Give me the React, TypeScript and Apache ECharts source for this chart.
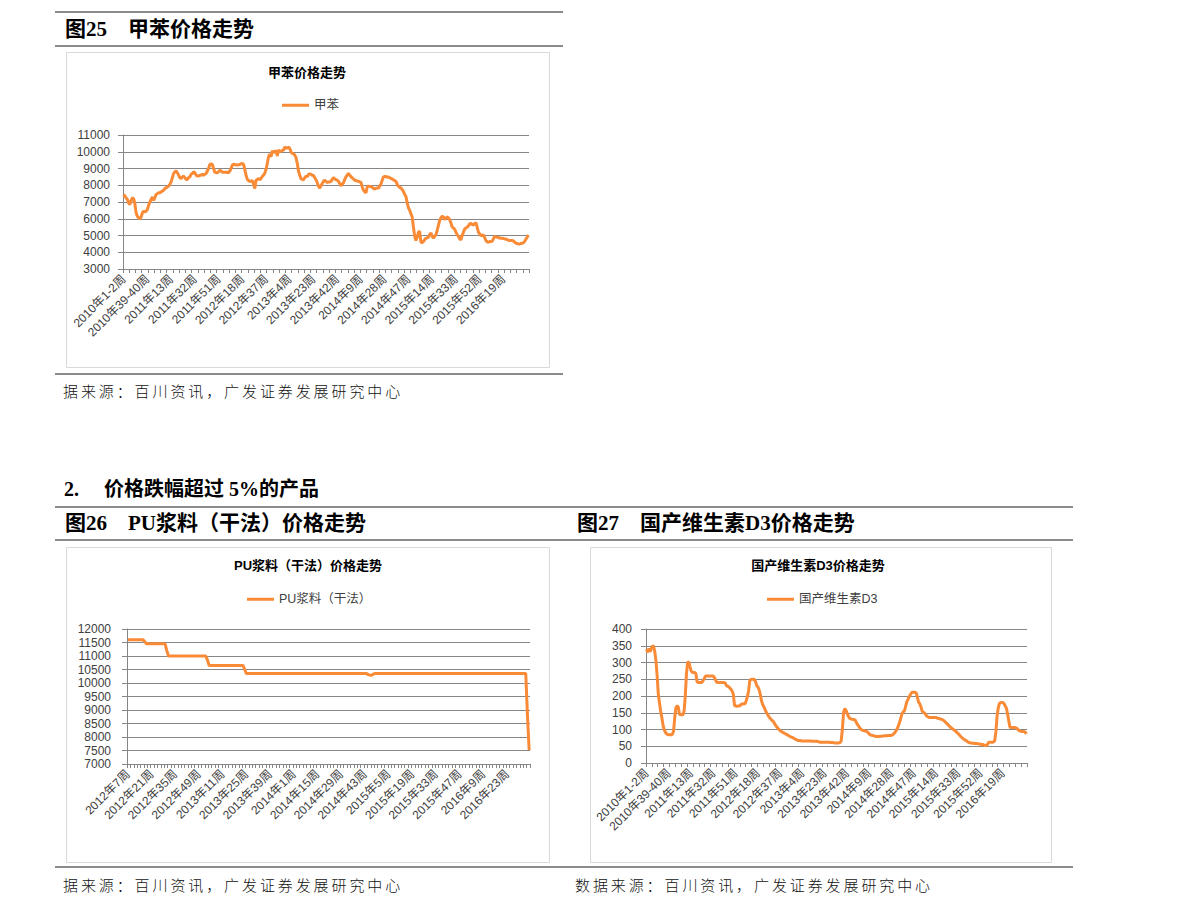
import React, { useEffect, useRef } from "react";
import * as echarts from "echarts";

// ---------- DATA ----------
const WEEK_TICKS = [
  "2010年1-2周", "2010年39-40周", "2011年13周", "2011年32周", "2011年51周",
  "2012年18周", "2012年37周", "2013年4周", "2013年23周", "2013年42周",
  "2014年9周", "2014年28周", "2014年47周", "2015年14周", "2015年33周",
  "2015年52周", "2016年19周",
];
const PU_TICKS = [
  "2012年7周", "2012年21周", "2012年35周", "2012年49周", "2013年11周",
  "2013年25周", "2013年39周", "2014年1周", "2014年15周", "2014年29周",
  "2014年43周", "2015年5周", "2015年19周", "2015年33周", "2015年47周",
  "2016年9周", "2016年23周",
];

const TOLUENE = [
  7450, 7350, 7250, 7150, 6950, 6850, 7100, 7250, 7200, 6900,
  6350, 6150, 6050, 6000, 6100, 6350, 6450, 6400, 6450, 6550,
  6800, 7000, 7150, 7300, 7100, 7250, 7450, 7500, 7550, 7550,
  7600, 7650, 7700, 7800, 7850, 7900, 7950, 8050, 8200, 8450,
  8700, 8800, 8850, 8750, 8600, 8450, 8400, 8500, 8550, 8450,
  8350, 8350, 8450, 8500, 8650, 8700, 8800, 8750, 8600, 8550,
  8550, 8600, 8600, 8650, 8600, 8650, 8700, 8850, 9000, 9250,
  9280, 9250, 9000, 8780, 8750, 8750, 8800, 8900, 8850, 8780,
  8780, 8780, 8780, 8760, 8750, 8850, 9000, 9200, 9270, 9220,
  9220, 9200, 9220, 9250, 9280, 9300, 9250, 8950, 8600, 8350,
  8280, 8230, 8250, 8280, 8100, 7800, 8300, 8350, 8400, 8330,
  8400, 8530, 8600, 8720, 8950, 9300, 9700, 9850, 9700, 10050,
  9950, 10000, 10080, 9750, 10100, 10020, 10030, 10080, 10100, 10280,
  10230, 10220, 10280, 10200, 9980, 9900, 9870, 9800, 9650, 9300,
  8850, 8600, 8380, 8350, 8330, 8450, 8550, 8500, 8650, 8680,
  8650, 8600, 8580, 8450, 8330, 8150, 7950, 7830, 7980, 8100,
  8250, 8300, 8220, 8170, 8200, 8200, 8230, 8350, 8450, 8380,
  8330, 8300, 8230, 8100, 7980, 8050, 8150, 8350, 8500, 8600,
  8720, 8600, 8520, 8430, 8380, 8300, 8280, 8250, 8230, 8200,
  8170, 7900, 7700, 7620, 7550, 7900, 7950, 7930, 7920, 7880,
  7800, 7770, 7820, 7830, 7830, 7950, 8080, 8300, 8500, 8520,
  8530, 8480, 8500, 8450, 8400, 8380, 8320, 8280, 8230, 8050,
  7930, 7870, 7830, 7750, 7620, 7450, 7330, 6950, 6650, 6500,
  6300, 6100, 5500, 4950, 4700, 4900, 5200, 5250, 4600, 4580,
  4640, 4750, 4840, 4860, 4900, 5050, 5150, 4950, 4850, 4950,
  5050, 5300, 5600, 5900, 6050, 6150, 6100, 5950, 6050, 6100,
  6050, 5950, 5750, 5500, 5450, 5370, 5200, 5050, 4950, 4800,
  4740, 5000, 5200, 5380, 5450, 5500, 5570, 5700, 5730, 5650,
  5630, 5700, 5770, 5500, 5200, 5100, 5000, 5000, 5030, 4880,
  4700, 4620, 4600, 4640, 4640, 4650, 4800, 4940, 4920, 4900,
  4880, 4850, 4840, 4840, 4820, 4800, 4780, 4750, 4720, 4700,
  4700, 4700, 4680, 4600, 4550, 4520, 4500, 4500, 4520, 4540,
  4560, 4650, 4780, 4900, 5030,
];

const PU_PRICE = [
  11600, 11600, 11600, 11600, 11600, 11600, 11600, 11600, 11600, 11600,
  11530, 11450, 11450, 11450, 11450, 11450, 11450, 11450, 11450, 11450,
  11450, 11450, 11450, 11200, 11000, 11000, 11000, 11000, 11000, 11000,
  11000, 11000, 11000, 11000, 11000, 11000, 11000, 11000, 11000, 11000,
  11000, 11000, 11000, 11000, 11000, 11000, 11000, 10850, 10650, 10650,
  10650, 10650, 10650, 10650, 10650, 10650, 10650, 10650, 10650, 10650,
  10650, 10650, 10650, 10650, 10650, 10650, 10650, 10650, 10650, 10500,
  10350, 10350, 10350, 10350, 10350, 10350, 10350, 10350, 10350, 10350,
  10350, 10350, 10350, 10350, 10350, 10350, 10350, 10350, 10350, 10350,
  10350, 10350, 10350, 10350, 10350, 10350, 10350, 10350, 10350, 10350,
  10350, 10350, 10350, 10350, 10350, 10350, 10350, 10350, 10350, 10350,
  10350, 10350, 10350, 10350, 10350, 10350, 10350, 10350, 10350, 10350,
  10350, 10350, 10350, 10350, 10350, 10350, 10350, 10350, 10350, 10350,
  10350, 10350, 10350, 10350, 10350, 10350, 10350, 10350, 10350, 10350,
  10350, 10350, 10310, 10290, 10290, 10330, 10350, 10350, 10350, 10350,
  10350, 10350, 10350, 10350, 10350, 10350, 10350, 10350, 10350, 10350,
  10350, 10350, 10350, 10350, 10350, 10350, 10350, 10350, 10350, 10350,
  10350, 10350, 10350, 10350, 10350, 10350, 10350, 10350, 10350, 10350,
  10350, 10350, 10350, 10350, 10350, 10350, 10350, 10350, 10350, 10350,
  10350, 10350, 10350, 10350, 10350, 10350, 10350, 10350, 10350, 10350,
  10350, 10350, 10350, 10350, 10350, 10350, 10350, 10350, 10350, 10350,
  10350, 10350, 10350, 10350, 10350, 10350, 10350, 10350, 10350, 10350,
  10350, 10350, 10350, 10350, 10350, 10350, 10350, 10350, 10350, 10350,
  10350, 10350, 10350, 10350, 10350, 10350, 8800, 7520,
];

const VITAMIN_D3 = [
  340, 330, 342, 332, 342, 350, 348, 332, 305, 260,
  205, 180, 155, 136, 113, 100, 92, 87, 85, 84,
  84, 84, 86, 95, 135, 165, 171, 167, 146, 144,
  144, 144, 155, 200, 265, 300, 302, 288, 275, 271,
  270, 270, 268, 243, 240, 240, 240, 240, 245, 251,
  258, 260, 260, 260, 260, 260, 260, 259, 254, 246,
  240, 240, 240, 240, 240, 240, 240, 239, 232, 229,
  228, 224, 220, 214, 205, 172, 170, 169, 170, 170,
  172, 176, 176, 177, 177, 186, 198, 215, 245, 250,
  250, 250, 250, 242, 230, 227, 218, 205, 186, 175,
  168, 160, 152, 146, 140, 135, 131, 127, 124, 119,
  113, 108, 104, 100, 96, 94, 92, 90, 88, 86,
  84, 82, 80, 78, 77, 75, 73, 71, 69, 68,
  67, 67, 66, 66, 66, 66, 66, 66, 66, 66,
  66, 65, 65, 65, 65, 65, 64, 63, 62, 62,
  62, 62, 62, 62, 62, 62, 62, 61, 61, 61,
  60, 60, 60, 60, 60, 61, 66, 100, 150, 162,
  158, 150, 140, 134, 132, 131, 130, 130, 128, 120,
  114, 110, 104, 100, 98, 97, 96, 95, 93, 91,
  86, 84, 83, 82, 81, 80, 79, 79, 79, 80,
  80, 80, 81, 81, 81, 81, 82, 82, 82, 83,
  84, 88, 92, 97, 104, 113, 123, 136, 148, 153,
  156, 170, 183, 190, 198, 204, 210, 211, 211, 211,
  209, 196, 182, 177, 168, 155, 151, 150, 145, 140,
  138, 136, 136, 136, 136, 136, 136, 136, 134, 133,
  132, 131, 130, 128, 125, 122, 118, 115, 111, 108,
  104, 102, 99, 97, 94, 90, 87, 83, 79, 76,
  73, 70, 68, 66, 63, 61, 60, 60, 59, 59,
  58, 58, 58, 57, 57, 56, 55, 55, 53, 52,
  53, 57, 62, 62, 62, 62, 63, 67, 95, 140,
  165, 178, 180, 181, 180, 177, 170, 163, 145, 125,
  106, 106, 106, 106, 106, 105, 103, 99, 96, 95,
  94, 94, 94, 92, 87,
];

// Build weekly category names; the named tick labels sit every `step` categories.
function weeklyCategories(ticks: string[], step: number, n: number): string[] {
  const out: string[] = [];
  for (let i = 0; i < n; i++) {
    const k = Math.min(Math.floor(i / step), ticks.length - 1);
    const r = i - k * step;
    if (r === 0) {
      out.push(ticks[k]);
      continue;
    }
    const m = ticks[k].match(/^(\d+)年(?:\d+-)?(\d+)周$/);
    let y = m ? parseInt(m[1], 10) : 2010;
    let w = (m ? parseInt(m[2], 10) : 1) + r;
    while (w > 52) { w -= 52; y += 1; }
    out.push(`${y}年${w}周`);
  }
  return out;
}

const TOL_CATS = weeklyCategories(WEEK_TICKS, 19, TOLUENE.length);
const D3_CATS = weeklyCategories(WEEK_TICKS, 19, VITAMIN_D3.length);
const PU_CATS = weeklyCategories(PU_TICKS, 14, PU_PRICE.length);

// ---------- STYLE ----------
const LINE_COLOR = "#F98A36";
const AXIS_GRAY = "#868686";
const CHART_FONT = '"Liberation Sans", "Noto Sans CJK SC", sans-serif';
const HEAD_FONT = '"Liberation Serif", "Noto Sans CJK SC", serif';
const FOOT_FONT = '"Noto Sans CJK SC", sans-serif';

function xAxisDef(gridIndex: number, data: string[], step: number, count: number, tickInterval: number) {
  return {
    gridIndex,
    type: "category",
    data,
    boundaryGap: true,
    axisLine: { show: true, lineStyle: { color: AXIS_GRAY, width: 1 } },
    axisTick: { show: true, interval: tickInterval, length: 4, lineStyle: { color: AXIS_GRAY } },
    axisLabel: {
      interval: (i: number) => i % step === 0 && i / step < count,
      rotate: 45,
      margin: 8,
      color: "#404040",
      fontSize: 12,
      fontFamily: CHART_FONT,
    },
    splitLine: { show: false },
  };
}

function yAxisDef(gridIndex: number, min: number, max: number, interval: number, margin: number) {
  return {
    gridIndex,
    type: "value",
    min,
    max,
    interval,
    axisLine: { show: true, lineStyle: { color: AXIS_GRAY, width: 1 } },
    axisTick: { show: true, length: 5, lineStyle: { color: AXIS_GRAY } },
    axisLabel: {
      margin,
      color: "#404040",
      fontSize: 12,
      fontFamily: CHART_FONT,
      formatter: (v: number) => String(v),
    },
    splitLine: { show: true, lineStyle: { color: AXIS_GRAY, width: 1 } },
  };
}

function seriesDef(name: string, idx: number, data: number[]) {
  return {
    name,
    type: "line",
    xAxisIndex: idx,
    yAxisIndex: idx,
    data,
    showSymbol: false,
    symbol: "none",
    lineStyle: { color: LINE_COLOR, width: 3 },
    itemStyle: { color: LINE_COLOR },
  };
}

function legendDef(name: string, left: number, top: number) {
  return {
    data: [name],
    left,
    top,
    padding: 0,
    icon: "rect",
    itemWidth: 27,
    itemHeight: 3,
    itemGap: 5,
    textStyle: { fontSize: 12.5, color: "#404040", fontFamily: CHART_FONT },
  };
}

function titleText(text: string, x: number, y: number) {
  return {
    type: "text",
    x,
    y,
    style: {
      text,
      align: "center",
      verticalAlign: "middle",
      fill: "#000000",
      fontSize: 13,
      fontWeight: "bold",
      fontFamily: CHART_FONT,
    },
  };
}

function boxRect(x: number, y: number, w: number, h: number) {
  return {
    type: "rect",
    z: -10,
    shape: { x: x + 0.5, y: y + 0.5, width: w, height: h },
    style: { fill: "none", stroke: "#d9d9d9", lineWidth: 1 },
  };
}

const NAMES = ["甲苯", "PU浆料（干法）", "国产维生素D3"];

export default function App() {
  const ref = useRef<HTMLDivElement>(null);

  useEffect(() => {
    if (!ref.current) return;
    const chart = echarts.init(ref.current, undefined, { renderer: "svg" });
    chart.setOption({
      animation: false,
      backgroundColor: "transparent",
      grid: [
        { left: 123, top: 135, width: 406, height: 134, containLabel: false },
        { left: 127, top: 629, width: 403, height: 135, containLabel: false },
        { left: 646, top: 629, width: 381, height: 134, containLabel: false },
      ],
      xAxis: [
        xAxisDef(0, TOL_CATS, 19, WEEK_TICKS.length, 4),
        xAxisDef(1, PU_CATS, 14, PU_TICKS.length, 1),
        xAxisDef(2, D3_CATS, 19, WEEK_TICKS.length, 4),
      ],
      yAxis: [
        yAxisDef(0, 3000, 11000, 1000, 13),
        yAxisDef(1, 7000, 12000, 500, 16),
        yAxisDef(2, 0, 400, 50, 14),
      ],
      legend: [
        legendDef(NAMES[0], 282, 99),
        legendDef(NAMES[1], 247, 593),
        legendDef(NAMES[2], 767, 593),
      ],
      series: [
        seriesDef(NAMES[0], 0, TOLUENE),
        seriesDef(NAMES[1], 1, PU_PRICE),
        seriesDef(NAMES[2], 2, VITAMIN_D3),
      ],
      graphic: [
        boxRect(66, 52, 483, 315),
        boxRect(66, 547, 483, 315),
        boxRect(590, 547, 461, 315),
        titleText("甲苯价格走势", 307, 72),
        titleText("PU浆料（干法）价格走势", 308, 565),
        titleText("国产维生素D3价格走势", 818, 565),
      ],
    });
    return () => chart.dispose();
  }, []);

  const hline = (x1: number, x2: number, y: number, w = 2) => (
    <div
      style={{
        position: "absolute",
        left: x1,
        top: y - w / 2,
        width: x2 - x1,
        height: w,
        background: "#8c8c8c",
      }}
    />
  );

  const heading = (text: string, x: number, cy: number, size = 21) => (
    <div
      style={{
        position: "absolute",
        left: x,
        top: cy - size / 2 - 1,
        height: size,
        lineHeight: `${size}px`,
        fontSize: size,
        fontWeight: "bold",
        fontFamily: HEAD_FONT,
        color: "#000",
        whiteSpace: "pre",
      }}
    >
      {text}
    </div>
  );

  const footer = (text: string, x: number, cy: number) => (
    <div
      style={{
        position: "absolute",
        left: x,
        top: cy - 8,
        height: 16,
        lineHeight: "16px",
        fontSize: 15,
        letterSpacing: "2.9px",
        fontFamily: FOOT_FONT,
        fontWeight: 300,
        color: "#111",
        whiteSpace: "pre",
      }}
    >
      {text}
    </div>
  );

  return (
    <div style={{ position: "absolute", left: 0, top: 0, width: 1191, height: 915, background: "#fff" }}>
      {hline(55, 563, 12, 1.5)}
      {heading("图25    甲苯价格走势", 65, 30)}
      {hline(55, 563, 46, 2)}
      {hline(55, 563, 374, 1.5)}
      {footer("据来源：百川资讯，广发证券发展研究中心", 63, 391)}

      {heading("2.     价格跌幅超过 5%的产品", 64, 490, 20)}
      {hline(55, 1073, 507, 2)}
      {heading("图26    PU浆料（干法）价格走势", 65, 524)}
      {heading("图27    国产维生素D3价格走势", 577, 524)}
      {hline(55, 1073, 540, 2)}
      {hline(55, 1073, 867, 1.5)}
      {footer("据来源：百川资讯，广发证券发展研究中心", 63, 885)}
      {footer("数据来源：百川资讯，广发证券发展研究中心", 575, 885)}

      <div ref={ref} style={{ position: "absolute", left: 0, top: 0, width: 1191, height: 915 }} />
    </div>
  );
}
